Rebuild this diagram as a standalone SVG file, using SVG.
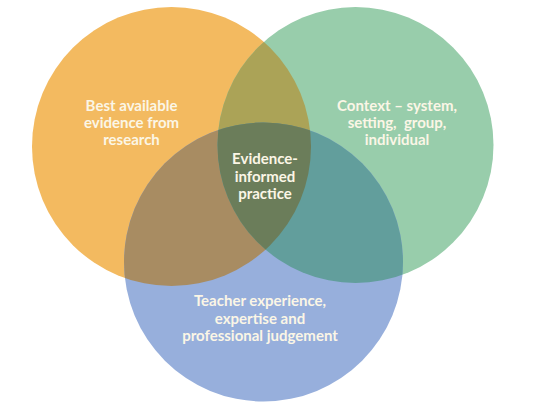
<svg xmlns="http://www.w3.org/2000/svg" width="540" height="409" viewBox="0 0 540 409">
<style>
.lbl{font-family:Lato,"Open Sans","Liberation Sans",sans-serif;font-weight:700;font-size:15px;fill:#FBF6E6;text-anchor:middle;white-space:pre}
</style>
<defs>
<clipPath id="cO"><circle cx="171.5" cy="146.5" r="139.5"/></clipPath>
<clipPath id="cG"><circle cx="355.5" cy="145" r="138"/></clipPath>
</defs>
<rect width="540" height="409" fill="#FFFFFF"/>
<g id="research">
<circle cx="171.5" cy="146.5" r="139.5" fill="#F3BA60"/>
</g>
<g id="context">
<circle cx="355.5" cy="145" r="138" fill="#98CDAB"/>
</g>
<g id="teacher">
<circle cx="263.5" cy="262" r="139.5" fill="#97AFDC"/>
</g>
<g id="overlaps">
<circle cx="355.5" cy="145" r="138" fill="#ABA357" clip-path="url(#cO)"/>
<circle cx="263.5" cy="262" r="139.5" fill="#A88C62" clip-path="url(#cO)"/>
<circle cx="263.5" cy="262" r="139.5" fill="#629E9C" clip-path="url(#cG)"/>
<g clip-path="url(#cO)"><circle cx="263.5" cy="262" r="139.5" fill="#6B7D5A" clip-path="url(#cG)"/></g>
</g>
<g id="labels">
<text class="lbl" x="131.5" y="111">Best available</text>
<text class="lbl" x="131.5" y="128">evidence from</text>
<text class="lbl" x="131.5" y="145">research</text>
<text class="lbl" x="397" y="111">Context – system,</text>
<text class="lbl" x="397" y="128" xml:space="preserve">setting,  group,</text>
<text class="lbl" x="397" y="145">individual</text>
<text class="lbl" x="265" y="164">Evidence-</text>
<text class="lbl" x="265" y="181.5">informed</text>
<text class="lbl" x="265" y="199">practice</text>
<text class="lbl" x="260" y="306">Teacher experience,</text>
<text class="lbl" x="260" y="323.5">expertise and</text>
<text class="lbl" x="260" y="341">professional judgement</text>
</g>
</svg>
